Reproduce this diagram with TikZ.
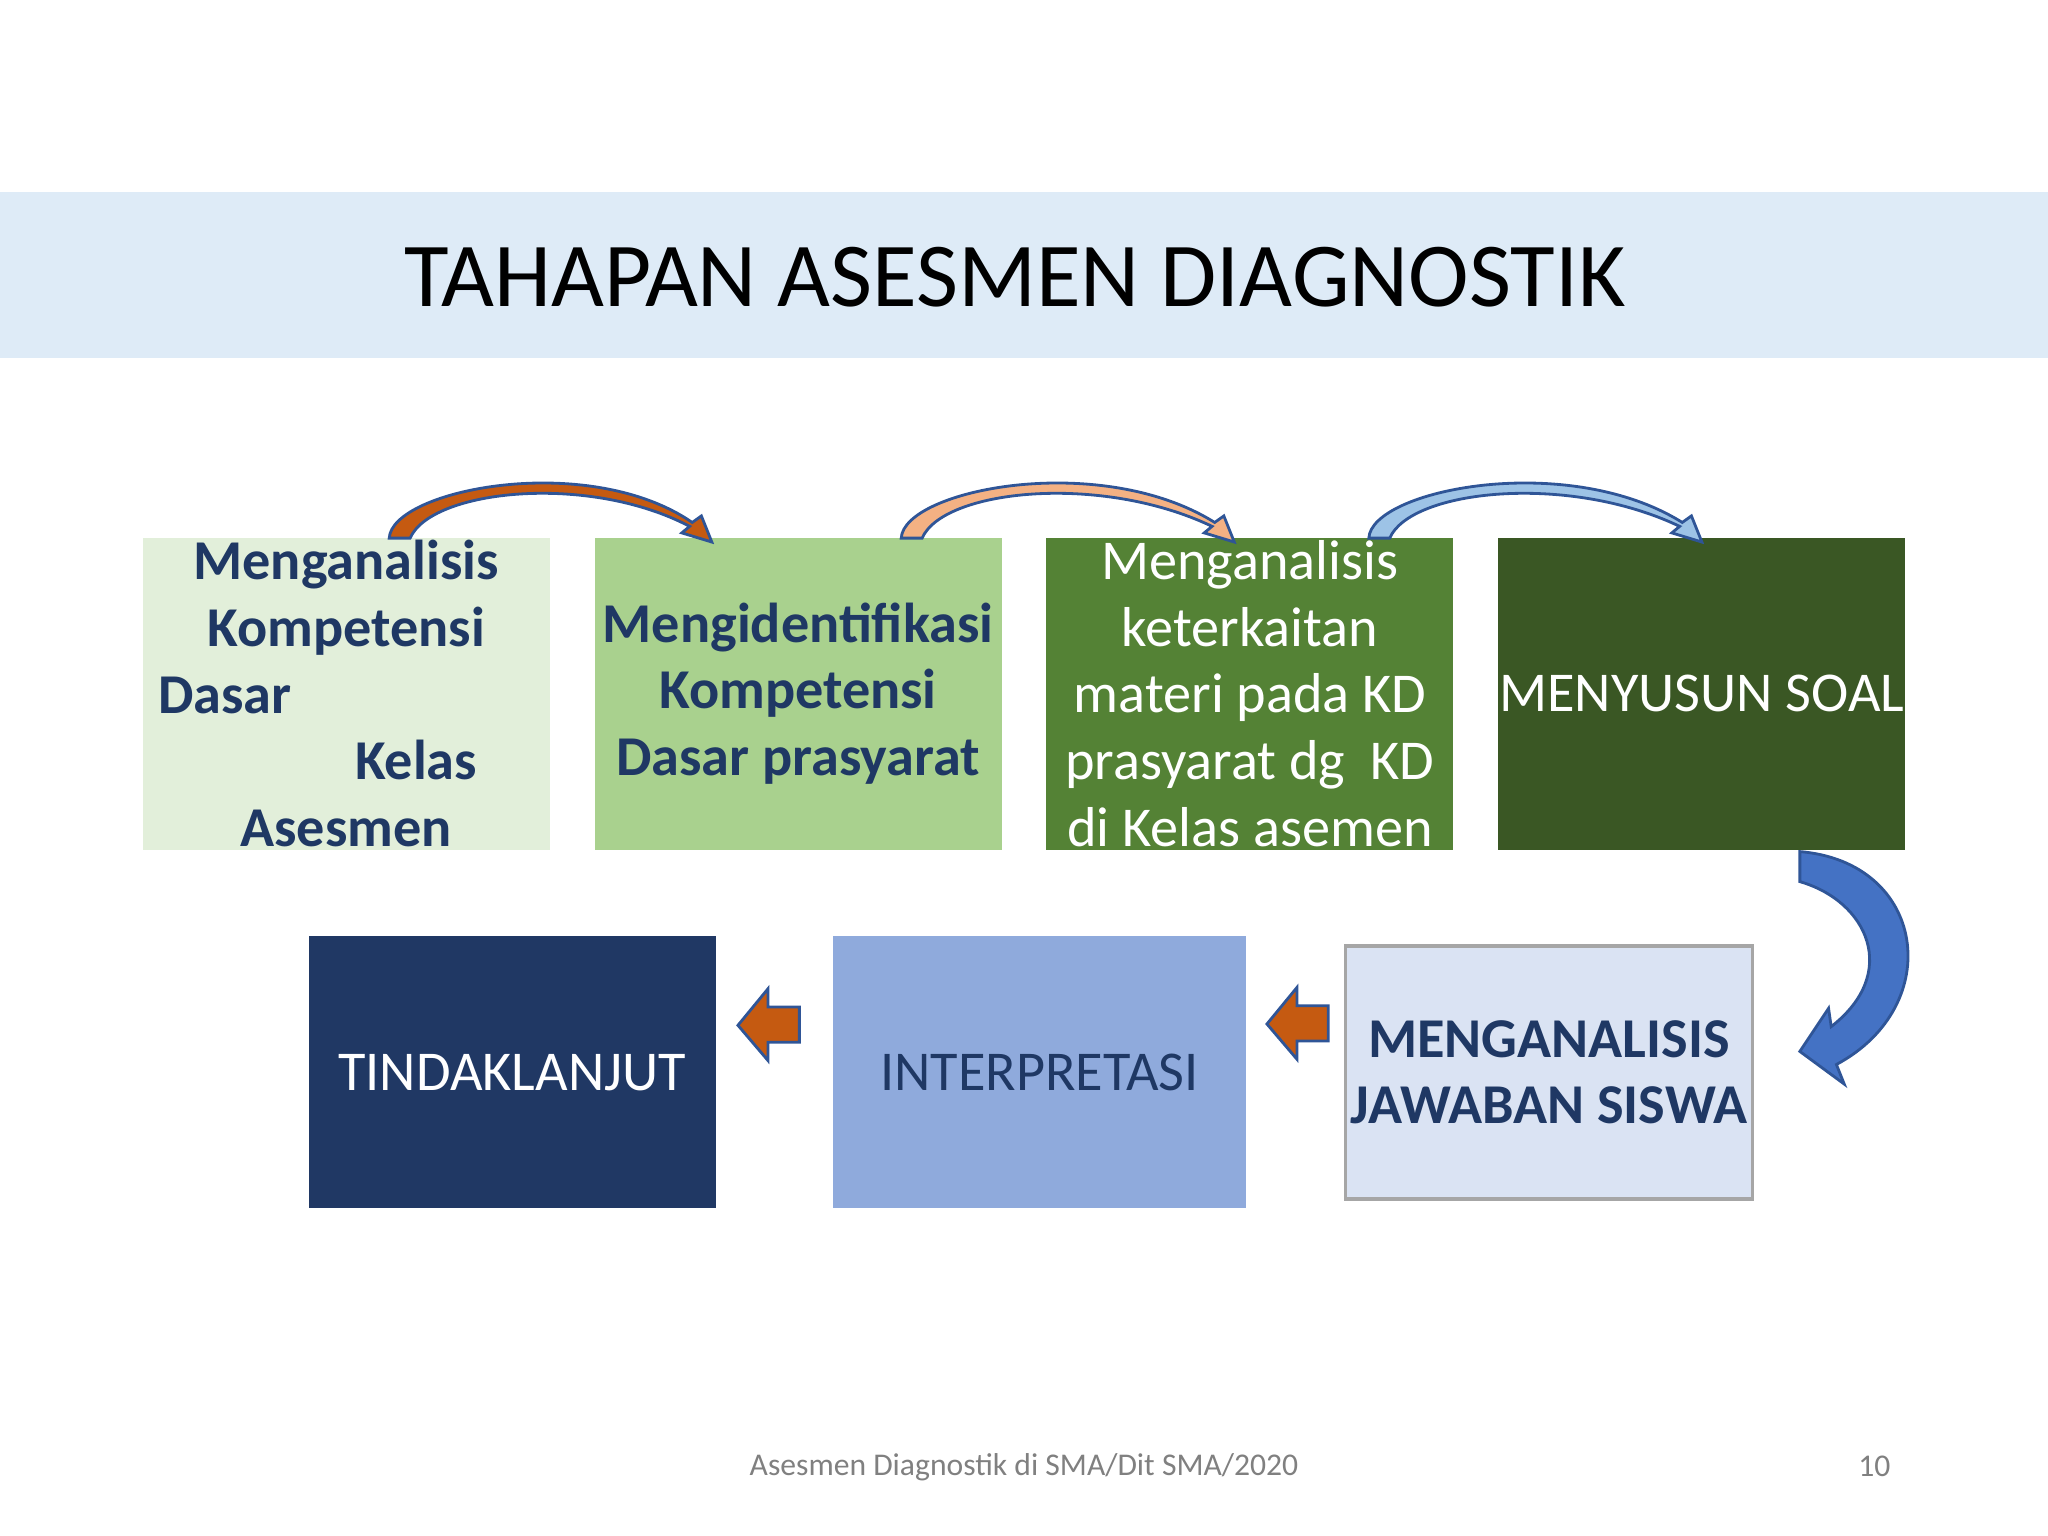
\documentclass[tikz,border=0pt]{standalone}
\usepackage{fontspec}
\setmainfont{Carlito}
\usetikzlibrary{positioning}
\definecolor{bandblue}{HTML}{DEEBF7}
\definecolor{navytext}{HTML}{1F3864}
\definecolor{greenA}{HTML}{E2EFDA}
\definecolor{greenB}{HTML}{A9D18E}
\definecolor{greenC}{HTML}{548235}
\definecolor{greenD}{HTML}{3A5724}
\definecolor{navybox}{HTML}{203864}
\definecolor{midblue}{HTML}{8FAADC}
\definecolor{paleblue}{HTML}{DAE3F3}
\definecolor{arrowedge}{HTML}{2F5597}
\definecolor{rust}{HTML}{C55A11}
\definecolor{salmon}{HTML}{F4B183}
\definecolor{skyblue}{HTML}{9DC3E6}
\definecolor{royal}{HTML}{4472C4}
\tikzset{
  stagebox/.style={minimum width=4.07cm, minimum height=3.12cm, inner sep=0pt,
    font=\fontsize{16}{19}\selectfont, align=center},
  lowbox/.style={minimum width=4.07cm, minimum height=2.72cm, inner sep=0pt,
    font=\fontsize{16}{19}\selectfont, align=center},
  ribbon/.style={draw=arrowedge, line width=0.8pt},
}
% curved arrow over the top row: start x, end x, fill colour
\newcommand{\toparc}[3]{%
  \fill[ribbon, fill=#3] (#1-2,412) .. controls (#1,375) and (#1+150,345) .. (#2-18,400)
    -- (#2-11,395) -- (#2-3,415) -- (#2-26,408) -- (#2-20,403)
    .. controls (#1+150,362) and (#1+30,375) .. (#1+14,412) -- cycle;}
% small block arrow pointing left, tip x and middle y
\newcommand{\leftarr}[2]{%
  \fill[ribbon, fill=rust] (#1,#2) -- (#1+23,#2-28) -- (#1+23,#2-14) -- (#1+47,#2-14)
    -- (#1+47,#2+13) -- (#1+23,#2+13) -- (#1+23,#2+27) -- cycle;}
\begin{document}
\begin{tikzpicture}[x=0.01306cm, y=-0.01306cm]
  \useasboundingbox (0,0) rectangle (1568,1176);
  % title band
  \fill[bandblue] (0,147) rectangle (1568,274);
  \node (title) at (777,212) {\fontsize{26}{30}\selectfont TAHAPAN ASESMEN DIAGNOSTIK};

  % top row
  \node[stagebox, fill=greenA, text=navytext, font=\fontsize{16}{19}\selectfont\bfseries,
        text width=3.76cm, align=left] (kd) at (265,531)
    {\makebox[\linewidth][c]{Menganalisis}\\
     \makebox[\linewidth][c]{Kompetensi}\\
     \makebox[\linewidth][l]{Dasar}\\
     \makebox[\linewidth][r]{Kelas\hspace{0.57cm}}\\
     \makebox[\linewidth][c]{Asesmen}};
  \node[stagebox, fill=greenB, text=navytext, font=\fontsize{16}{19}\selectfont\bfseries]
    (prasyarat) at (611,531) {Mengidentifikasi\\Kompetensi\\Dasar prasyarat};
  \node[stagebox, fill=greenC, text=white] (keterkaitan) at (957,531)
    {Menganalisis\\keterkaitan\\materi pada KD\\prasyarat dg~ KD\\di Kelas asemen};
  \node[stagebox, fill=greenD, text=white] (soal) at (1303,531) {MENYUSUN SOAL};

  % bottom row
  \node[lowbox, fill=navybox, text=white] (tindak) at (392,821) {TINDAKLANJUT};
  \node[lowbox, fill=midblue, text=navytext, minimum width=4.13cm] (interp) at (796,821) {INTERPRETASI};
  \node[lowbox, fill=paleblue, draw=gray!70, line width=1pt, text=navytext,
        font=\fontsize{16}{19}\selectfont\bfseries, minimum height=2.53cm]
    (jawaban) at (1186,821) {MENGANALISIS\\JAWABAN SISWA};

  % arrows between stages
  \toparc{300}{548}{rust}
  \toparc{692}{948}{salmon}
  \toparc{1050}{1306}{skyblue}
  \fill[ribbon, fill=royal] (1378,652) -- (1378,675) .. controls (1430,690) and (1455,745) .. (1402,786)
    -- (1400,772) -- (1378,805) -- (1412,830) -- (1406,815)
    .. controls (1490,770) and (1475,660) .. (1378,652) -- cycle;
  \leftarr{565}{785}
  \leftarr{970}{784}

  % footer
  \node[text=gray, font=\fontsize{9}{11}\selectfont] (footer) at (784,1123)
    {Asesmen Diagnostik di SMA/Dit SMA/2020};
  \node[text=gray, font=\fontsize{9}{11}\selectfont] (page) at (1435,1123) {10};
\end{tikzpicture}
\end{document}
